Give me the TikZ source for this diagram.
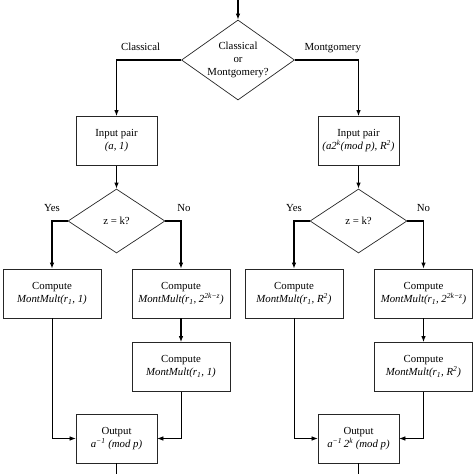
\documentclass[tikz,border=0pt]{standalone}
\usepackage{fontspec}
\setmainfont{Liberation Serif}
\usetikzlibrary{shapes.geometric,arrows.meta}

\begin{document}
\begin{tikzpicture}[x=1pt, y=-1pt,
  every node/.style={font=\fontsize{10.8}{13}\selectfont},
  procbox/.style={draw=black!85, line width=0.7pt, align=center,
                  minimum width=81pt, minimum height=49pt, inner sep=1pt},
  widebox/.style={procbox, minimum width=98pt},
  decision/.style={draw=black!85, diamond, line width=0.7pt, align=center,
                   inner sep=0pt, aspect=1.4},
  flow/.style={line width=1.1pt, -{Latex[length=6pt,width=4.5pt]}},
  thinflow/.style={line width=0.6pt, -{Latex[length=6pt,width=4.5pt]}},
  branch/.style={anchor=base, yshift=10pt, inner sep=0pt}
]
\useasboundingbox (0,0) rectangle (474,474);

% ---- top decision ------------------------------------------------
\coordinate (start) at (238,0);
\node[decision, minimum width=113pt, minimum height=80pt, inner sep=-3pt]
      (mode) at (238,60) {Classical\\or\\Montgomery?};

% ---- classical half ------------------------------------------------
\node[procbox] (inL) at (116.5,141) {Input pair\\\textit{(a, 1)}};
\node[decision, minimum width=97pt, minimum height=64pt]
      (zkL) at (116.5,221) {z = k?};
\node[widebox] (yesL) at (52,293.5)
      {Compute\\\textit{MontMult(r\textsubscript{1}, 1)}};
\node[widebox] (noL) at (181,293.5)
      {Compute\\\textit{MontMult(r\textsubscript{1}, 2\textsuperscript{2k−z})}};
\node[widebox] (noL2) at (181,367)
      {Compute\\\textit{MontMult(r\textsubscript{1}, 1)}};
\node[procbox] (outL) at (116.5,438.5)
      {Output\\\textit{a\textsuperscript{−1} (mod p)}};
\coordinate (endL) at (116.5,474);

% ---- montgomery half -----------------------------------------------
\node[procbox] (inR) at (358.5,141)
      {Input pair\\\textit{(a2\textsuperscript{k}(mod p), R\textsuperscript{2})}};
\node[decision, minimum width=97pt, minimum height=64pt]
      (zkR) at (358.5,221) {z = k?};
\node[widebox] (yesR) at (294,293.5)
      {Compute\\\textit{MontMult(r\textsubscript{1}, R\textsuperscript{2})}};
\node[widebox] (noR) at (423.5,293.5)
      {Compute\\\textit{MontMult(r\textsubscript{1}, 2\textsuperscript{2k−z})}};
\node[widebox] (noR2) at (423.5,367)
      {Compute\\\textit{MontMult(r\textsubscript{1}, R\textsuperscript{2})}};
\node[procbox] (outR) at (358.5,438.5)
      {Output\\\textit{a\textsuperscript{−1}\,2\textsuperscript{k} (mod p)}};
\coordinate (endR) at (358.5,474);

% ---- connectors ----------------------------------------------------
\draw[flow] (start) -- (mode.north);
\draw[flow] (mode.west) -| node[branch, anchor=base west, xshift=4pt]
      {Classical} (inL.north);
\draw[flow] (mode.east) -| node[branch, anchor=base east, xshift=3pt]
      {Montgomery} (inR.north);

\draw[flow] (inL) -- (zkL);
\draw[flow] (zkL.west) -| node[branch] {Yes} (yesL.north);
\draw[flow] (zkL.east) -| node[branch, xshift=3pt] {No} (noL.north);
\draw[flow] (noL) -- (noL2);
\draw[thinflow] (yesL.south) |- (outL.west);
\draw[thinflow] (noL2.south) |- (outL.east);
\draw[line width=0.6pt] (outL.south) -- (endL);

\draw[flow] (inR) -- (zkR);
\draw[flow] (zkR.west) -| node[branch] {Yes} (yesR.north);
\draw[flow] (zkR.east) -| node[branch] {No} (noR.north);
\draw[flow] (noR) -- (noR2);
\draw[thinflow] (yesR.south) |- (outR.west);
\draw[thinflow] (noR2.south) |- (outR.east);
\draw[line width=0.6pt] (outR.south) -- (endR);

\end{tikzpicture}
\end{document}
